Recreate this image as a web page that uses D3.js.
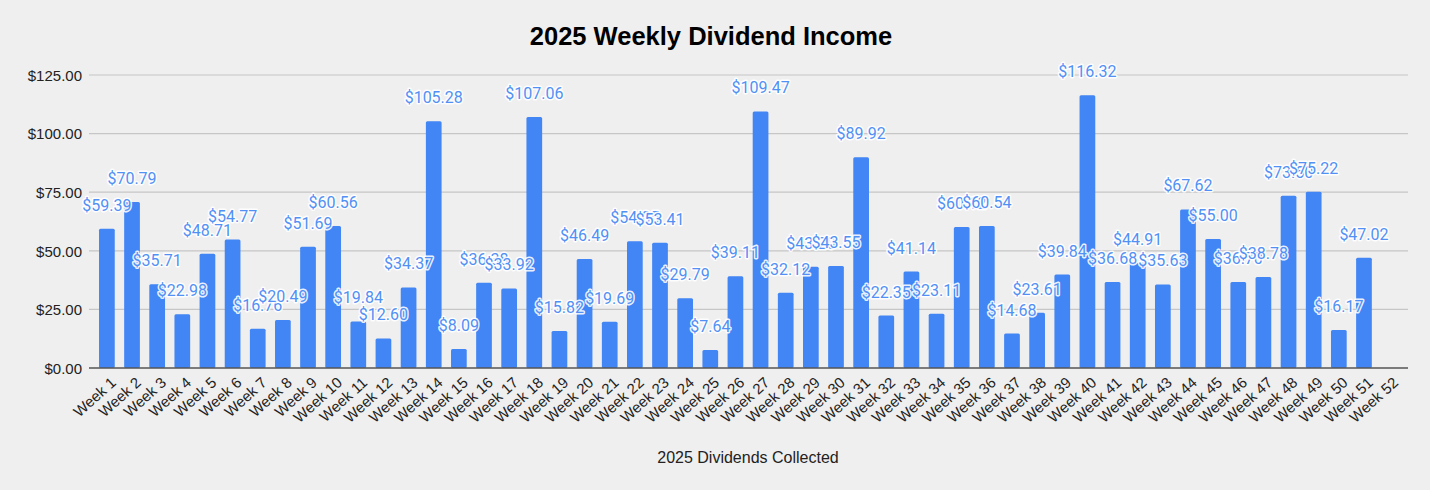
<!DOCTYPE html>
<html><head><meta charset="utf-8">
<script src="https://cdn.jsdelivr.net/npm/d3@7"></script>
<style>
html,body{margin:0;padding:0;background:#efefef;}
svg{display:block;}
</style></head>
<body><svg id="chart" width="1430" height="490"></svg>
<script>
const weeks = Array.from({length:52},(_,i)=>"Week "+(i+1));
const values = [59.39,70.79,35.71,22.98,48.71,54.77,16.76,20.49,51.69,60.56,
  19.84,12.60,34.37,105.28,8.09,36.38,33.92,107.06,15.82,46.49,
  19.69,54.05,53.41,29.79,7.64,39.11,109.47,32.12,43.20,43.55,
  89.92,22.35,41.14,23.11,60.12,60.54,14.68,23.61,39.84,116.32,
  36.68,44.91,35.63,67.62,55.00,36.70,38.78,73.50,75.22,16.17,
  47.02,null];
const yTicks = [0,25,50,75,100,125];
const title = "2025 Weekly Dividend Income";
const xTitle = "2025 Dividends Collected";

const svg = d3.select("#chart");
const W=1430,H=490;
const m={left:94,right:1402,top:75,bottom:368};
const x = d3.scaleBand().domain(weeks).range([m.left,m.right]).paddingInner(0.375).paddingOuter(0.2);
const y = d3.scaleLinear().domain([0,125]).range([m.bottom,m.top]);
const fmt = d=>"$"+d3.format(",.2f")(d);

svg.append("rect").attr("width",W).attr("height",H).attr("fill","#efefef");

// gridlines
svg.append("g").selectAll("line").data(yTicks.filter(d=>d>0)).join("line")
  .attr("x1",89).attr("x2",1408)
  .attr("y1",d=>y(d)).attr("y2",d=>y(d))
  .attr("stroke","#c6c6c6").attr("stroke-width",1.2);

// y axis labels
const yAxis = d3.axisLeft(y).tickValues(yTicks).tickFormat(fmt).tickSize(0).tickPadding(0);
const yg = svg.append("g").attr("transform","translate(82,0)").call(yAxis);
yg.select(".domain").remove();
yg.selectAll("text").attr("font-family","Liberation Sans, Arial, sans-serif").attr("font-size",15).attr("fill","#222").attr("dy","0.35em");

// bars
const data = weeks.map((w,i)=>({w,v:values[i]})).filter(d=>d.v!=null);
svg.append("g").selectAll("rect").data(data).join("rect")
  .attr("x",d=>x(d.w)).attr("width",x.bandwidth())
  .attr("y",d=>y(d.v)).attr("height",d=>y(0)-y(d.v))
  .attr("rx",1.5).attr("fill","#4285f4");

// baseline
svg.append("line").attr("x1",89).attr("x2",1408).attr("y1",y(0)).attr("y2",y(0))
  .attr("stroke","#555").attr("stroke-width",1.6);

// x axis labels
const xAxis = d3.axisBottom(x).tickSize(0).tickPadding(0);
const xg = svg.append("g").attr("transform",`translate(0,${y(0)})`).call(xAxis);
xg.select(".domain").remove();
xg.selectAll("text")
  .attr("font-family","Liberation Sans, Arial, sans-serif").attr("font-size",15).attr("fill","#222")
  .attr("text-anchor","end").attr("dy",0).attr("y",0)
  .attr("transform","translate(10,16) rotate(-42)");

// data labels
const lg = svg.append("g");
data.forEach(d=>{
  lg.append("text")
    .attr("x",x(d.w)+x.bandwidth()/2).attr("y",y(d.v)-18)
    .attr("text-anchor","middle")
    .attr("font-family","Roboto, sans-serif").attr("font-size",16)
    .attr("fill","#5190f5")
    .attr("stroke","#ffffff").attr("stroke-width",3).attr("stroke-opacity",0.9)
    .attr("stroke-linejoin","round").attr("paint-order","stroke")
    .text(fmt(d.v));
});

// title
svg.append("text").attr("x",711).attr("y",45).attr("text-anchor","middle")
  .attr("font-family","Liberation Sans, Arial, sans-serif").attr("font-weight","bold").attr("font-size",25.5)
  .attr("fill","#000").text(title);

svg.append("text").attr("x",748).attr("y",463).attr("text-anchor","middle")
  .attr("font-family","Liberation Sans, Arial, sans-serif").attr("font-size",16)
  .attr("fill","#222").text(xTitle);
</script></body></html>
